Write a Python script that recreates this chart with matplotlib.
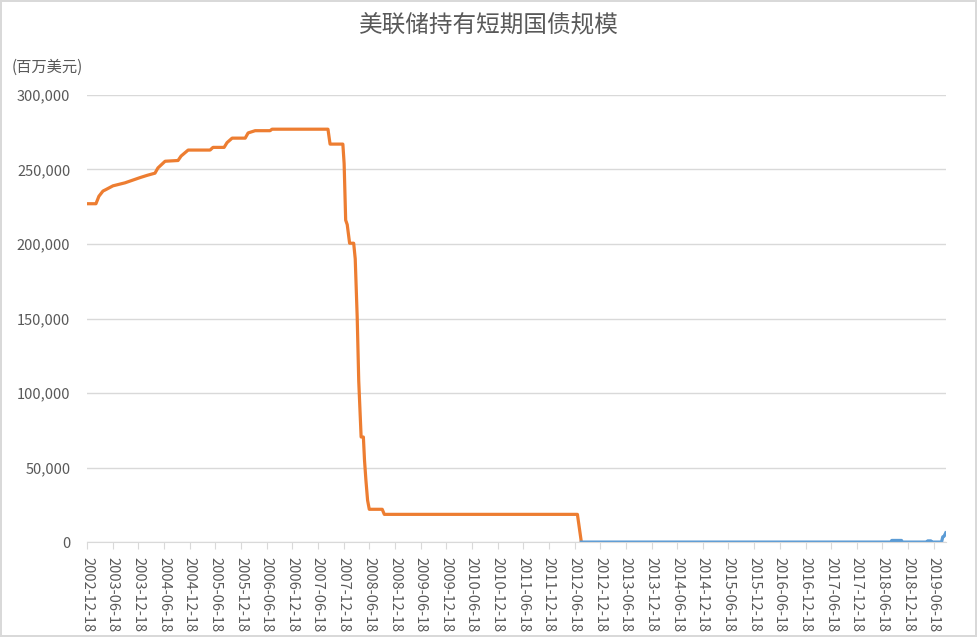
import matplotlib
matplotlib.use("Agg")
from matplotlib import pyplot as plt
import matplotlib.dates as mdates
import pandas as pd

plt.rcParams['font.family'] = ['Noto Sans CJK SC', 'DejaVu Sans']

# orange series: short-term treasuries held (million USD)
orange_dates = ["2002-12-18", "2003-02-20", "2003-03-13", "2003-04-11", "2003-05-02",
                "2003-06-21", "2003-09-14", "2003-12-30", "2004-02-18", "2004-04-15",
                "2004-05-06", "2004-06-26", "2004-09-26", "2004-10-18", "2004-12-07",
                "2005-05-12", "2005-06-02", "2005-08-20", "2005-09-10", "2005-10-16",
                "2006-01-17", "2006-02-07", "2006-03-29", "2006-07-13", "2006-07-27",
                "2007-08-29", "2007-09-13", "2007-12-13", "2007-12-22", "2008-01-02",
                "2008-01-13", "2008-01-30", "2008-02-28", "2008-03-10", "2008-03-24",
                "2008-04-04", "2008-04-21", "2008-05-07", "2008-05-15", "2008-05-25",
                "2008-06-06", "2008-06-18", "2008-09-18", "2008-10-03", "2012-07-08",
                "2012-08-05"]
orange_vals = [227000, 227000, 232000, 235500, 236500,
               239000, 241000, 244500, 246000, 247500,
               251000, 255500, 256000, 259000, 263000,
               263000, 264800, 264800, 268000, 271000,
               271000, 274500, 276000, 276000, 277000,
               277000, 267000, 267000, 254000, 216000,
               213000, 200500, 200500, 190000, 151000,
               108000, 70500, 70500, 55000, 41600,
               28000, 22000, 22000, 18600, 18600,
               0]

# blue series
blue_dates = ["2012-08-05", "2018-08-16", "2018-08-23", "2018-10-31", "2018-11-07",
              "2019-04-29", "2019-05-06", "2019-05-28", "2019-06-04", "2019-08-12",
              "2019-08-21", "2019-08-31", "2019-09-11"]
blue_vals = [0, 0, 1100, 1100, 0,
             0, 800, 800, 0, 0,
             3500, 4000, 6200]

tick_dates = [d for y in range(2002, 2020) for d in (f"{y}-06-18", f"{y}-12-18")
              if "2002-12-18" <= d <= "2019-06-18"]

grey = '#595959'
fig = plt.figure(figsize=(9.77, 6.37), dpi=100)
fig.patch.set_edgecolor('#d9d9d9')
fig.patch.set_linewidth(1.5)
ax = fig.add_axes([0.089, 0.149, 0.879, 0.702])

ax.plot(pd.to_datetime(orange_dates), orange_vals, color='#ED7D31', lw=2.3, solid_joinstyle='round')
ax.plot(pd.to_datetime(blue_dates), blue_vals, color='#5B9BD5', lw=2.3, solid_joinstyle='round')

ax.set_xlim(pd.Timestamp("2002-12-18"), pd.Timestamp("2019-09-11"))
ax.set_ylim(0, 300000)
ax.set_yticks(range(0, 300001, 50000))
ax.yaxis.set_major_formatter(matplotlib.ticker.FuncFormatter(lambda v, p: f"{int(v):,}"))
ax.set_xticks(pd.to_datetime(tick_dates))
ax.set_xticklabels(tick_dates, rotation=-90)
ax.tick_params(axis='x', length=5, color='#d9d9d9', labelcolor=grey, labelsize=10.5, pad=6)
ax.tick_params(axis='y', length=0, labelcolor=grey, labelsize=10.5, pad=12)
for lbl in ax.get_xticklabels():
    lbl.set_verticalalignment('top')

ax.grid(axis='y', color='#d9d9d9', lw=1)
ax.set_axisbelow(True)
for s in ['top', 'right', 'left']:
    ax.spines[s].set_visible(False)
ax.spines['bottom'].set_color('#d9d9d9')

fig.text(0.5, 0.96, "美联储持有短期国债规模", ha='center', va='center', fontsize=17, color=grey)
fig.text(12 / 977, 1 - 67 / 637, "(百万美元)", ha='left', va='center', fontsize=11, color=grey)

fig.savefig("out.png", dpi=100, edgecolor=fig.get_edgecolor())
